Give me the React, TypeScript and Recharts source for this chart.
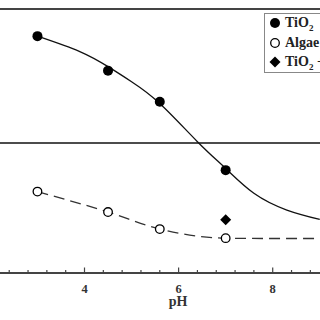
import React from "react"
import { ComposedChart, Line, Scatter, XAxis, YAxis, ReferenceLine } from "recharts"

// measured points
const phPoints = [3, 4.5, 5.6, 7]
const zetaTiO2 = [31.9, 21.6, 12.3, -8.1]
const zetaAlgae = [-14.5, -20.6, -25.7, -28.4]
const phMix = [7]
const zetaMix = [-22.9]

// fitted curves
const fitTiO2Ph = [3, 3.9, 4.5, 5.0, 5.6, 6.4, 7.0, 7.6, 8.3, 9.0]
const fitTiO2Zeta = [31.9, 27.3, 22.8, 18.3, 11.8, 0.4, -7.6, -15.0, -20.0, -22.8]
const fitAlgaePh = [3, 4.5, 5.6, 7, 8, 9]
const fitAlgaeZeta = [-14.5, -20.6, -25.7, -28.4, -28.5, -28.5]

const xTicks = [2.4, 2.8, 3.2, 3.6, 4, 4.4, 4.8, 5.2, 5.6, 6, 6.4, 6.8, 7.2, 7.6, 8, 8.4, 8.8]
const majorTicks = [4, 6, 8]

const toPoints = (xs: number[], ys: number[]) => xs.map((ph, i) => ({ ph, v: ys[i] }))

const tio2Data = toPoints(phPoints, zetaTiO2)
const algaeData = toPoints(phPoints, zetaAlgae)
const mixData = toPoints(phMix, zetaMix)
const tio2Fit = toPoints(fitTiO2Ph, fitTiO2Zeta)
const algaeFit = toPoints(fitAlgaePh, fitAlgaeZeta)

const FONT = "'Liberation Serif', 'DejaVu Serif', serif"

function PhTick(props: any) {
  const { x, y, payload } = props
  const major = majorTicks.includes(payload.value)
  return (
    <g>
      <line x1={x} x2={x} y1={y} y2={y - (major ? 5.5 : 3)} stroke="#444" strokeWidth={1.2} />
      {major && (
        <text x={x} y={y + 19.5} textAnchor="middle" fontFamily={FONT} fontWeight="bold" fontSize={12.5} fill="#333">
          {payload.value}
        </text>
      )}
    </g>
  )
}

const FilledDot = (p: any) => <circle cx={p.cx} cy={p.cy} r={5} fill="#000" />
const OpenDot = (p: any) => <circle cx={p.cx} cy={p.cy} r={4.3} fill="#fff" stroke="#000" strokeWidth={1.3} />
const Diamond = (p: any) => (
  <polygon
    points={`${p.cx},${p.cy - 5.5} ${p.cx + 5.5},${p.cy} ${p.cx},${p.cy + 5.5} ${p.cx - 5.5},${p.cy}`}
    fill="#000"
  />
)

function LegendBox() {
  const row = { display: "flex", alignItems: "center", height: 19.5, whiteSpace: "nowrap" as const }
  const label = { marginLeft: 4, fontFamily: FONT, fontWeight: "bold" as const, fontSize: 14, color: "#222", lineHeight: "14px" }
  return (
    <div
      style={{
        position: "absolute",
        left: 264,
        top: 12.5,
        border: "1px solid #888",
        background: "#fff",
        padding: "0 4px",
        width: 100,
      }}
    >
      <div style={row}>
        <svg width={12} height={12}><circle cx={6} cy={6} r={5} fill="#000" /></svg>
        <span style={label}>TiO<sub style={{ fontSize: 9, lineHeight: 0 }}>2</sub></span>
      </div>
      <div style={row}>
        <svg width={12} height={12}><circle cx={6} cy={6} r={4.3} fill="#fff" stroke="#000" strokeWidth={1.3} /></svg>
        <span style={label}>Algae</span>
      </div>
      <div style={row}>
        <svg width={12} height={12}><polygon points="6,0.5 11.5,6 6,11.5 0.5,6" fill="#000" /></svg>
        <span style={label}>TiO<sub style={{ fontSize: 9, lineHeight: 0 }}>2</sub> + Algae</span>
      </div>
    </div>
  )
}

export default function App() {
  return (
    <div style={{ position: "absolute", left: 0, top: 0, width: 320, height: 320, overflow: "hidden", background: "#fff" }}>
      <ComposedChart width={320} height={320} margin={{ top: 9, right: 0, bottom: 0, left: 0 }}>
        <XAxis
          dataKey="ph"
          type="number"
          domain={[2.204, 9.005]}
          allowDataOverflow
          ticks={xTicks}
          interval={0}
          tickSize={0}
          tickMargin={0}
          tick={<PhTick />}
          height={47}
          stroke="#444"
          strokeWidth={2}
          label={{
            content: (lp: any) => {
              const vb = lp.viewBox
              return (
                <text x={vb.x + vb.width / 2 + 18} y={vb.y + 33} textAnchor="middle" fontFamily={FONT} fontWeight="bold" fontSize={14} fill="#333">
                  pH
                </text>
              )
            },
          }}
        />
        <YAxis dataKey="v" type="number" domain={[-38.8, 40]} allowDataOverflow hide />
        <ReferenceLine y={40} stroke="#444" strokeWidth={2} />
        <ReferenceLine y={0} stroke="#111" strokeWidth={1.5} />
        <Line data={tio2Fit} dataKey="v" type="natural" stroke="#111" strokeWidth={1.3} dot={false} isAnimationActive={false} />
        <Line data={algaeFit} dataKey="v" type="monotone" stroke="#333" strokeWidth={1.3} strokeDasharray="11 6" dot={false} isAnimationActive={false} />
        <Scatter data={tio2Data} dataKey="v" shape={FilledDot} isAnimationActive={false} />
        <Scatter data={algaeData} dataKey="v" shape={OpenDot} isAnimationActive={false} />
        <Scatter data={mixData} dataKey="v" shape={Diamond} isAnimationActive={false} />
      </ComposedChart>
      <LegendBox />
    </div>
  )
}
